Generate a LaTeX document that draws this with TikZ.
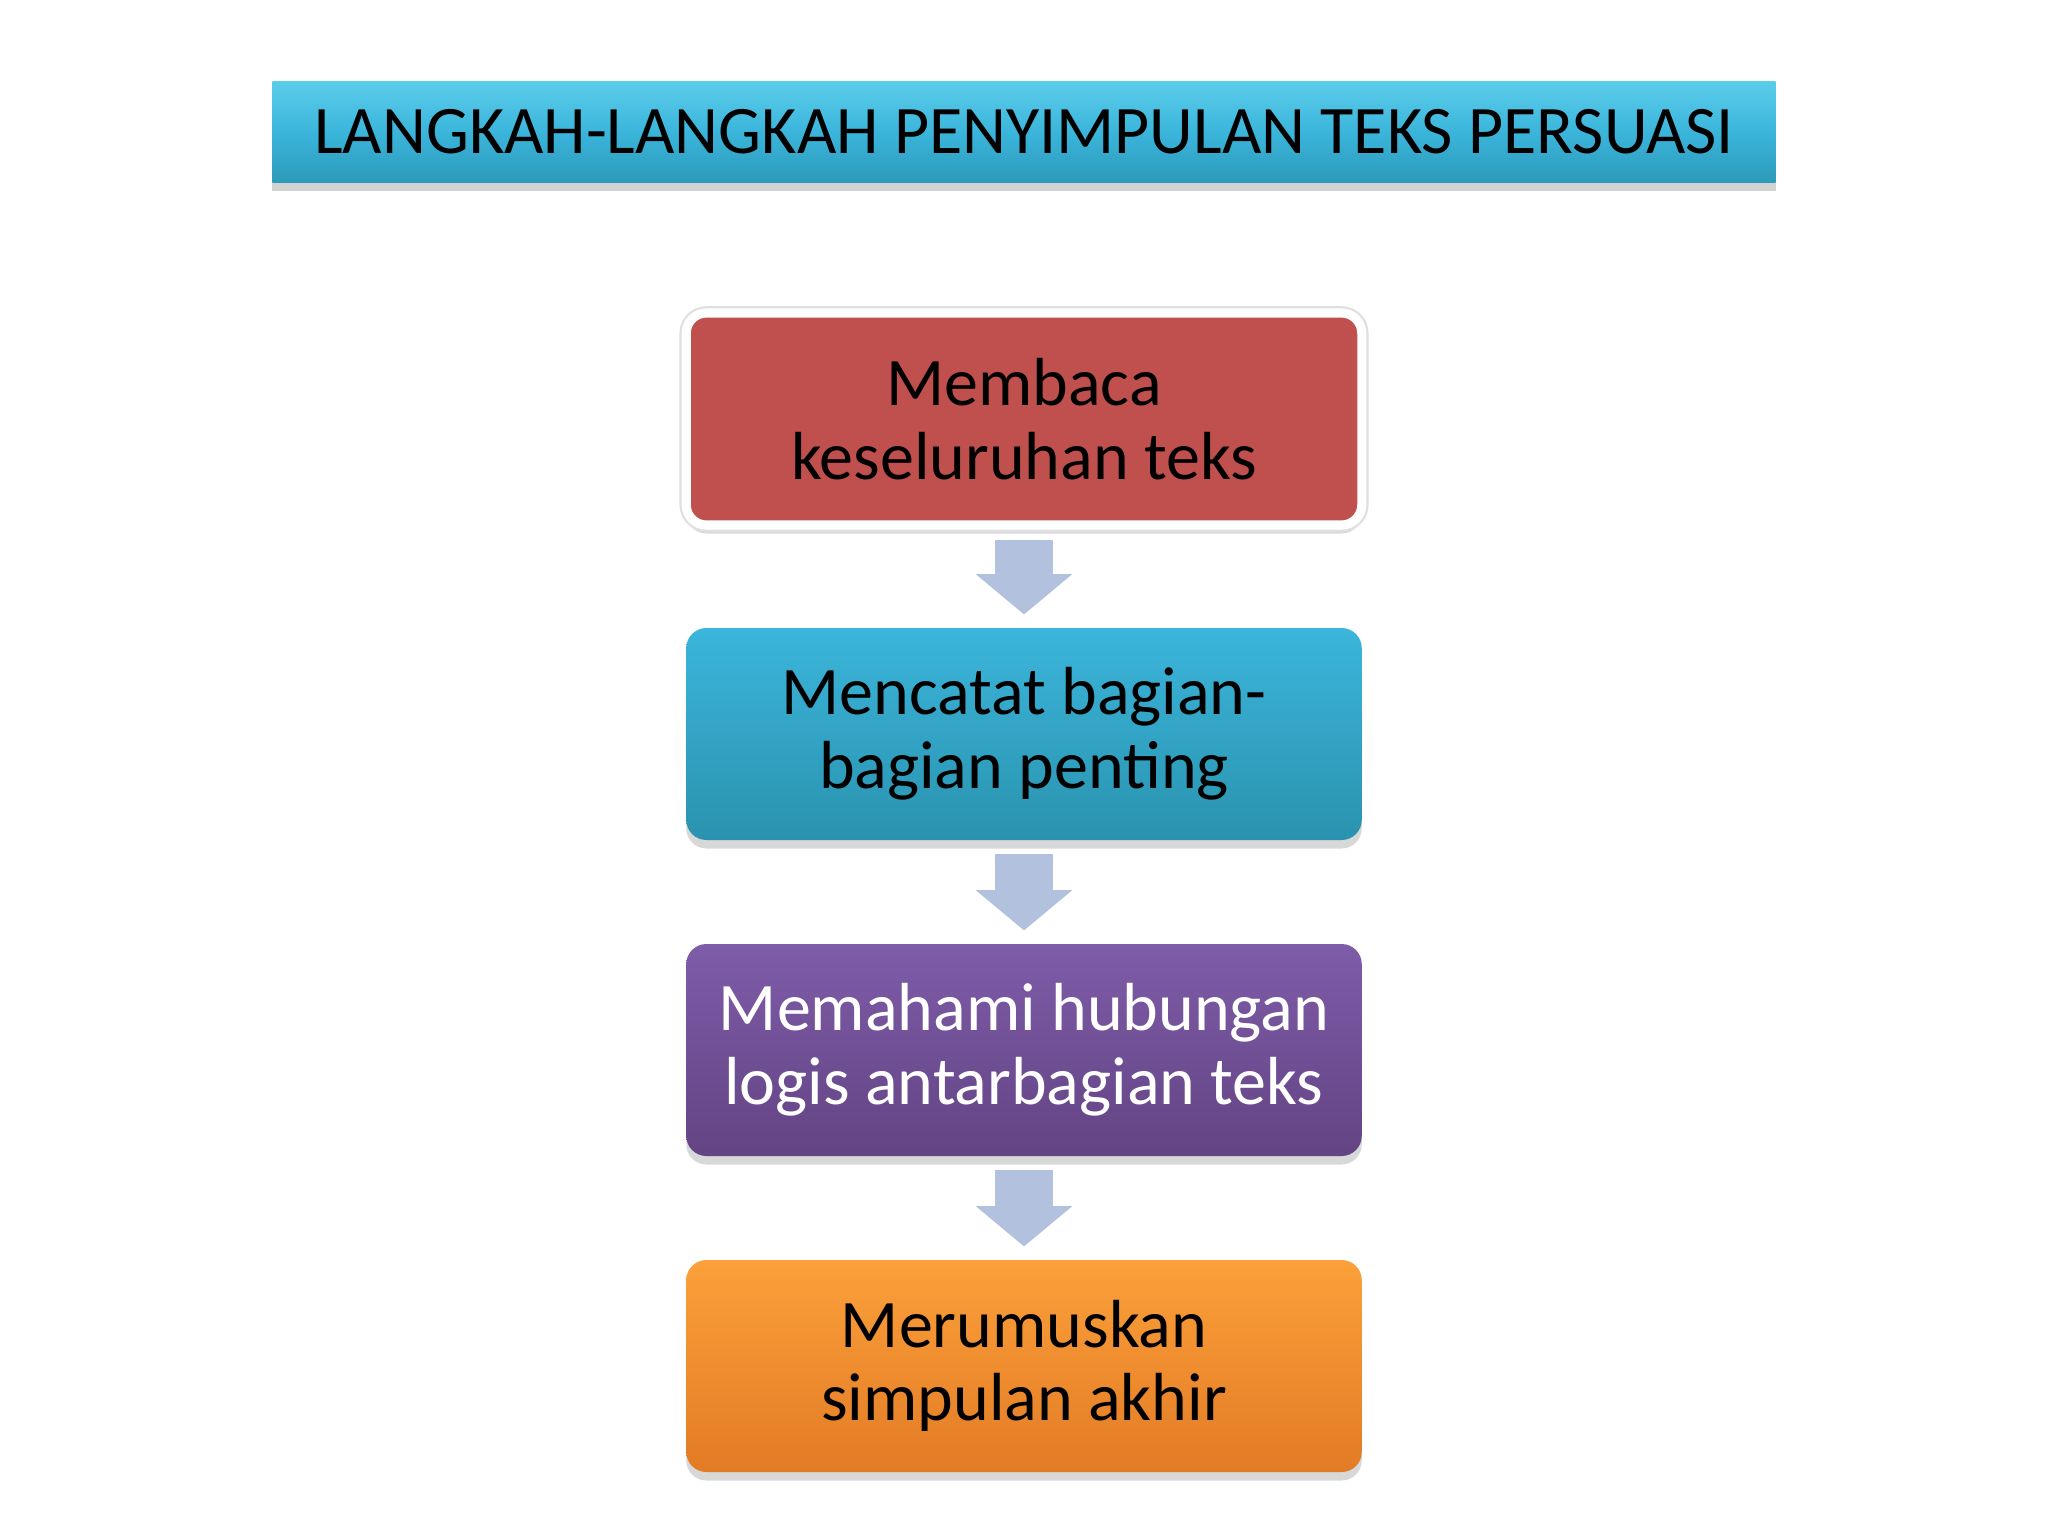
\documentclass[tikz,border=0pt]{standalone}
\usepackage{fontspec}
\setmainfont{Carlito}
\usepackage{xcolor}
\usetikzlibrary{arrows.meta,calc,shadows}

\definecolor{judulA}{HTML}{5CCDEB}
\definecolor{judulB}{HTML}{2C9ABA}
\definecolor{merah}{HTML}{C0504D}
\definecolor{biruA}{HTML}{3BB5DB}
\definecolor{biruB}{HTML}{2A93AF}
\definecolor{unguA}{HTML}{7E5CA9}
\definecolor{unguB}{HTML}{634483}
\definecolor{oranyeA}{HTML}{FCA03A}
\definecolor{oranyeB}{HTML}{E27B25}
\definecolor{panah}{HTML}{B2C1DE}

\tikzset{
  judul/.style={rectangle, minimum width=18.65cm, minimum height=1.26cm,
    top color=judulA, bottom color=judulB, middle color=biruA,
    drop shadow={opacity=0.35, shadow xshift=0pt, shadow yshift=-3pt},
    font=\fontsize{24}{28}\selectfont, text=black},
  langkah/.style={rectangle, rounded corners=0.25cm, minimum width=8.38cm,
    minimum height=2.63cm, align=center, font=\fontsize{24}{26}\selectfont,
    drop shadow={opacity=0.3, shadow xshift=0pt, shadow yshift=-3pt}},
  bingkai/.style={draw=white, line width=3.2pt,
    preaction={draw=black!12, line width=4.8pt}},
  aliran/.style={draw=panah, line width=0.72cm,
    -{Triangle[width=1.17cm, length=0.5cm]}}
}

\begin{document}
\begin{tikzpicture}[x=0.0124cm, y=-0.0124cm]
		\useasboundingbox[fill=white] (0,0) rectangle (2048,1536);
		%
		\node[judul] (title) at (1024, 132) {LANGKAH-LANGKAH PENYIMPULAN TEKS PERSUASI};
		%
		\node[langkah, fill=merah, bingkai] (baca) at (1024, 419) {Membaca\\keseluruhan teks};
		\node[langkah, top color=biruA, bottom color=biruB] (catat) at (1024, 734) {Mencatat bagian-\\bagian penting};
		\node[langkah, top color=unguA, bottom color=unguB, text=white] (paham) at (1024, 1050) {Memahami hubungan\\logis antarbagian teks};
		\node[langkah, top color=oranyeA, bottom color=oranyeB] (rumus) at (1024, 1366) {Merumuskan\\simpulan akhir};
		% Panah antar langkah
		\draw[aliran] ($(baca.south)+(0,10)$) to ($(catat.north)+(0,-13)$);
		\draw[aliran] ($(catat.south)+(0,13)$) to ($(paham.north)+(0,-13)$);
		\draw[aliran] ($(paham.south)+(0,13)$) to ($(rumus.north)+(0,-13)$);
	\end{tikzpicture}
\end{document}
